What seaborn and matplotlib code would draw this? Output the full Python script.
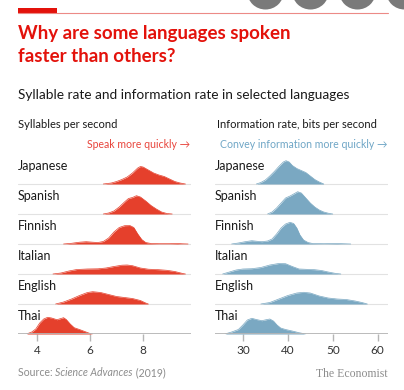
"""
Ridge plots of syllable rate and information rate, Economist style.
"""

import numpy as np
import pandas as pd
import seaborn as sns
from matplotlib import pyplot as plt
from matplotlib.patches import Circle, Rectangle

languages = ["Japanese", "Spanish", "Finnish", "Italian", "English", "Thai"]

# syllables per second: rate and ridge height (px)
japanese_syl_x = [6.5, 6.8, 7.0, 7.2, 7.4, 7.6, 7.8, 7.9, 8.0, 8.2, 8.4, 8.6, 8.8, 9.0, 9.2, 9.4, 9.6]
japanese_syl_h = [0, 1, 2.5, 4.5, 7, 11, 16, 17.5, 17, 14, 11, 9, 7.5, 5, 2.5, 1, 0]
spanish_syl_x = [6.5, 6.7, 6.9, 7.1, 7.3, 7.45, 7.6, 7.75, 7.9, 8.1, 8.3, 8.5, 8.7, 8.9, 9.1]
spanish_syl_h = [0, 1, 3, 7, 12, 15.5, 16.5, 18.3, 17, 13, 8.5, 5, 2, 0.5, 0]
finnish_syl_x = [5.0, 5.3, 5.6, 5.85, 6.1, 6.3, 6.5, 6.7, 6.9, 7.1, 7.3, 7.5, 7.65, 7.8, 7.95, 8.1, 8.3, 8.6, 9.0, 9.3, 9.5, 9.7]
finnish_syl_h = [0, 0.7, 1.8, 2.3, 1.8, 1.5, 2.5, 6, 12, 16.5, 18.3, 18.5, 16.5, 10, 4.5, 1.5, 0.5, 0.3, 0.3, 0.5, 0.2, 0]
italian_syl_x = [4.6, 4.9, 5.2, 5.5, 5.9, 6.3, 6.6, 6.9, 7.2, 7.4, 7.6, 7.9, 8.2, 8.6, 8.9, 9.2, 9.5, 9.6]
italian_syl_h = [0, 1, 3, 4.5, 5, 5.2, 6, 7.5, 8.8, 9, 8.3, 6, 4.8, 4.3, 3.7, 2.5, 0.5, 0]
english_syl_x = [4.7, 5.0, 5.3, 5.6, 5.9, 6.1, 6.4, 6.7, 7.0, 7.3, 7.6, 7.9, 8.1, 8.2]
english_syl_h = [0, 2, 5, 8.5, 11.5, 12.3, 11.5, 9.5, 7.5, 6.5, 5.5, 3.5, 1, 0]
thai_syl_x = [3.6, 3.8, 3.95, 4.1, 4.25, 4.4, 4.55, 4.75, 4.9, 5.0, 5.1, 5.25, 5.4, 5.6, 5.8, 6.0, 6.1]
thai_syl_h = [0, 2, 5, 11, 15, 16.7, 16, 14.3, 15.5, 16.3, 14.5, 10, 6.3, 4.5, 2.5, 0.5, 0]

# information rate, bits per second
japanese_inf_x = [33, 34, 35, 36, 37, 38, 39, 39.6, 40.3, 41, 42, 43, 44, 45, 46, 47, 48]
japanese_inf_h = [0, 1.5, 4, 8, 12.5, 17.5, 22, 23.3, 22, 18.5, 15.5, 13.5, 11.5, 8, 4.5, 2, 0]
spanish_inf_x = [35.5, 36.5, 37.5, 38.5, 39.5, 40.5, 41.3, 42.2, 43, 44, 45, 46, 47, 48, 49, 50]
spanish_inf_h = [0, 2, 6, 11, 16, 18, 20, 22.3, 21, 16, 11, 7, 4, 2, 0.8, 0]
finnish_inf_x = [27.5, 29, 30.5, 32, 33, 34.2, 35.5, 36.5, 37.5, 38.5, 39.5, 40.5, 41.3, 42, 42.7, 43.5, 44.5, 45.5, 48, 51, 54]
finnish_inf_h = [0, 1, 2.3, 3.3, 2.8, 2.3, 3, 5, 10, 16, 20, 21.7, 20.5, 16, 9, 4, 1.5, 0.5, 0.3, 0.5, 0]
italian_inf_x = [25.5, 27, 28.5, 30, 32, 34, 36, 38, 39.5, 41, 42.5, 44, 46, 47.5, 49, 50.5, 51.8]
italian_inf_h = [0, 2, 4, 5, 5.3, 6.5, 9, 10.5, 10.3, 7.5, 5, 4.7, 4.3, 3.5, 2, 0.7, 0]
english_inf_x = [34, 36, 38, 40, 42, 43.5, 45, 47, 49, 51, 53, 55, 56.5, 57.7]
english_inf_h = [0, 1.5, 5, 8.5, 11, 11.7, 11, 8, 6, 5, 4.5, 3, 1.5, 0]
thai_inf_x = [26, 27.5, 29, 30, 31, 32, 33, 34.2, 35.2, 36, 36.8, 37.6, 38.4, 39.5, 41, 42.5, 44]
thai_inf_h = [0, 2, 4.5, 9, 14, 15.7, 14.5, 13.3, 14.3, 15, 13, 9, 6, 4.5, 3, 1.3, 0]

syl_ticks = [4, 6, 8]
inf_ticks = [30, 40, 50, 60]

syl_rows = [
    (japanese_syl_x, japanese_syl_h),
    (spanish_syl_x, spanish_syl_h),
    (finnish_syl_x, finnish_syl_h),
    (italian_syl_x, italian_syl_h),
    (english_syl_x, english_syl_h),
    (thai_syl_x, thai_syl_h),
]
inf_rows = [
    (japanese_inf_x, japanese_inf_h),
    (spanish_inf_x, spanish_inf_h),
    (finnish_inf_x, finnish_inf_h),
    (italian_inf_x, italian_inf_h),
    (english_inf_x, english_inf_h),
    (thai_inf_x, thai_inf_h),
]

RED = "#E3120B"
RIDGE_RED = "#E5402C"
RIDGE_BLUE = "#7AA8C2"
DARK = "#1a1a1a"
GREY = "#8c8c8c"

sns.set_theme(style="white")
plt.rcParams["font.family"] = ["Lato", "DejaVu Sans"]

W, H = 404, 390
fig = plt.figure(figsize=(W / 100, H / 100), dpi=100)


def ftext(x, y, s, **kw):
    return fig.text(x / W, 1 - y / H, s, **kw)


def ridge_panel(x0, x1, xlim, ticks, rows, color):
    # axis spans from y=150px down to the Thai baseline at 334px
    top, bottom = 150, 334
    ax = fig.add_axes([x0 / W, 1 - bottom / H, (x1 - x0) / W, (bottom - top) / H])
    ax.patch.set_alpha(0)
    for i, (lang, (xs, hs)) in enumerate(zip(languages, rows)):
        base = 150 - 30 * i
        if i < len(languages) - 1:
            ax.axhline(base, color="#e2e2e2", lw=0.8, zorder=1)
        hs = np.asarray(hs, dtype=float)
        ax.fill_between(xs, base, base + hs, color=color, lw=0, zorder=2)
        df = pd.DataFrame({"x": xs, "y": base + hs})
        sns.lineplot(data=df, x="x", y="y", color=color, lw=0.5, ax=ax, zorder=2)
        ax.text(0, base + 14, lang, transform=ax.get_yaxis_transform(),
                ha="left", va="baseline", fontsize=9, color=DARK)
    ax.axhline(0, color="#b5b5b5", lw=1.3, zorder=3)
    ax.set_xlim(*xlim)
    ax.set_ylim(0, bottom - top)
    ax.set_xticks(ticks)
    ax.set_yticks([])
    ax.set_xlabel("")
    ax.set_ylabel("")
    ax.tick_params(axis="x", length=5, width=1, color="#b5b5b5", pad=3,
                   labelsize=8.5, labelcolor="#333333", bottom=True)
    sns.despine(ax=ax, left=True, bottom=True)
    return ax


ridge_panel(18, 191, (3.28, 9.81), syl_ticks, syl_rows, RIDGE_RED)
ridge_panel(215, 388, (23.8, 62.3), inf_ticks, inf_rows, RIDGE_BLUE)

# header decoration
for cx in [265.5, 310.5, 357.5, 404.5]:
    fig.patches.append(Circle((cx / W, 1 + 8 / H), 17.5 / H, transform=fig.transFigure,
                              color="#7a7a7a", lw=0))
for c in fig.patches:
    c.set_transform(fig.transFigure)
fig.add_artist(plt.Line2D([18 / W, 388 / W], [1 - 13.3 / H] * 2, color="#ec8a86", lw=0.8))
fig.add_artist(Rectangle((18 / W, 1 - 13.3 / H), 39 / W, 5 / H, color=RED, lw=0))

ftext(18, 39, "Why are some languages spoken", fontsize=13.5, weight="bold", color=RED, va="baseline")
ftext(18, 62, "faster than others?", fontsize=13.5, weight="bold", color=RED, va="baseline")
ftext(18, 99, "Syllable rate and information rate in selected languages", fontsize=9.8, color=DARK, va="baseline")

ftext(18, 128, "Syllables per second", fontsize=8, color=DARK, va="baseline")
ftext(217, 128, "Information rate, bits per second", fontsize=8, color=DARK, va="baseline")
ftext(190, 147.7, "Speak more quickly \u2192", fontsize=7.6, color="#e8453c", ha="right", va="baseline")
ftext(388, 147.7, "Convey information more quickly \u2192", fontsize=7.6, color="#6fa6c6", ha="right", va="baseline")

t = ftext(18, 376, "Source: ", fontsize=7.6, color=GREY, va="baseline")
t = fig.axes[0].annotate("Science Advances", xy=(1, 0), xycoords=t, fontsize=7.6, color=GREY,
                         style="italic", va="bottom", ha="left")
fig.axes[0].annotate(" (2019)", xy=(1, 0), xycoords=t, fontsize=7.6, color=GREY, va="bottom", ha="left")
ftext(388, 377, "The Economist", fontsize=8.5, color=GREY, ha="right", va="baseline",
      family="Liberation Serif")

fig.savefig("out.png", dpi=100)
